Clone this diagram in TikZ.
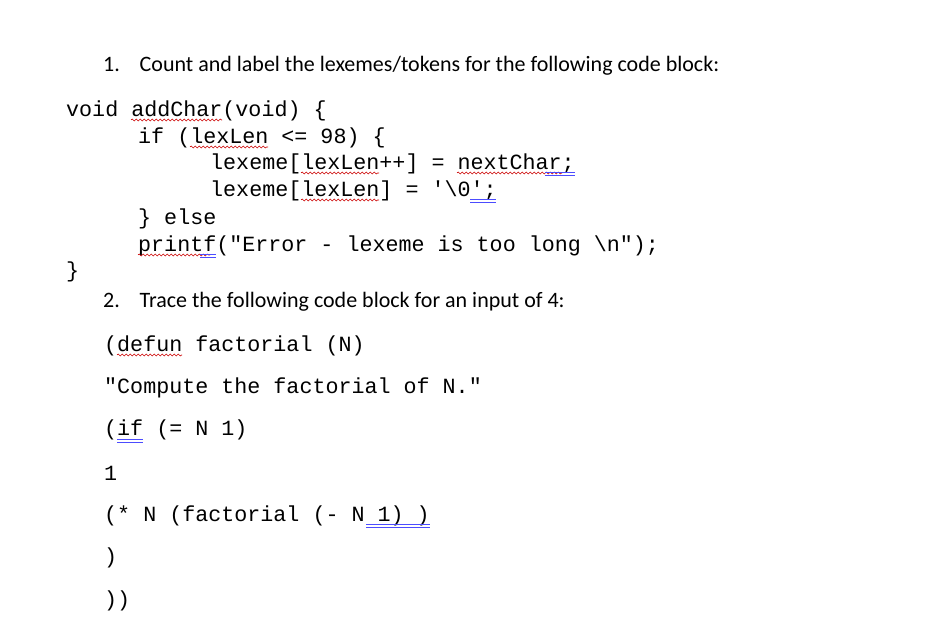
\documentclass[tikz,border=0pt]{standalone}
\usepackage{fontspec}
\setmainfont{Carlito}
\newfontfamily\codefont{Liberation Mono}
\usetikzlibrary{decorations.pathmorphing}
\begin{document}
\begin{tikzpicture}[x=1pt,y=-1pt,
  head/.style={anchor=west,inner sep=0pt,font=\fontsize{22}{26}\selectfont},
  code/.style={anchor=west,inner sep=0pt,font=\codefont\fontsize{21.7}{26}\selectfont},
  wavy/.style={draw=red!80!black,line width=0.6pt,decorate,decoration={snake,amplitude=1pt,segment length=4pt}},
  dbl/.style={draw=blue!70,line width=0.7pt}]
\useasboundingbox (0,0) rectangle (936,636);
\fill[white] (0,0) rectangle (936,636);
\node[head] (h1) at (103,66) {1.\hspace{0.6em} Count and label the lexemes/tokens for the following code block:};
\node[code] (c1) at (66,111) {void addChar(void) \{};
\node[code] (c2) at (138,138) {if (lexLen <= 98) \{};
\node[code] (c3) at (210,164) {lexeme[lexLen++] = nextChar;};
\node[code] (c4) at (210,191) {lexeme[lexLen] = '\textbackslash 0';};
\node[code] (c5) at (138,219) {\} else};
\node[code] (c6) at (138,246) {printf("Error - lexeme is too long \textbackslash n");};
\node[code] (c7) at (66,272) {\}};
\node[head] (h2) at (103,302) {2.\hspace{0.6em} Trace the following code block for an input of 4:};
\node[code] (l1) at (104,346) {(defun factorial (N)};
\node[code] (l2) at (104,388) {"Compute the factorial of N."};
\node[code] (l3) at (104,430) {(if (= N 1)};
\node[code] (l4) at (104,473) {1};
\node[code] (l5) at (104,516) {(* N (factorial (- N 1) )};
\node[code] (l6) at (104,558) {)};
\node[code] (l7) at (104,601) {))};
% squiggles
\path[wavy] (131,120) -- (222,120);
\path[wavy] (190,147) -- (268,147);
\path[wavy] (301,173) -- (379,173);
\path[wavy] (457,173) -- (562,173);
\path[wavy] (301,200) -- (379,200);
\path[wavy] (138,255) -- (210,255);
\path[wavy] (117,355) -- (182,355);
\draw[dbl] (545,172) -- (575,172) (545,175) -- (575,175);
\draw[dbl] (470,199) -- (496,199) (470,202) -- (496,202);
\draw[dbl] (200,254) -- (216,254) (200,257) -- (216,257);
\draw[dbl] (117,439) -- (143,439) (117,442) -- (143,442);
\draw[dbl] (366,524) -- (430,524) (366,527) -- (430,527);
\end{tikzpicture}
\end{document}
